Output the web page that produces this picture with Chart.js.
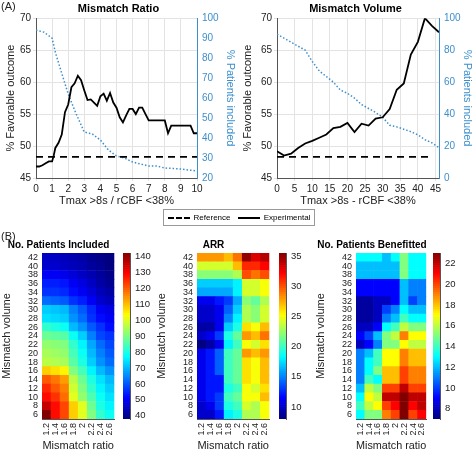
<!DOCTYPE html>
<html><head><meta charset="utf-8">
<script src="https://cdn.jsdelivr.net/npm/chart.js@4"></script>
<style>
body{margin:0;background:#fff;font-family:"Liberation Sans",Arial,sans-serif;}
canvas{position:absolute;}
.lbl{position:absolute;font-size:11px;color:#222;}
#legend{position:absolute;left:163px;top:209px;width:150px;height:15px;border:1px solid #999;font-size:8px;display:flex;align-items:center;justify-content:space-around;background:#fff;}
.ln{display:inline-block;width:22px;height:0;border-top:2px solid #000;vertical-align:middle;margin-right:4px;}
</style></head><body>
<canvas id="c1" style="left:0;top:0"></canvas>
<canvas id="c2" style="left:237px;top:0"></canvas>
<canvas id="h1" style="left:0;top:239px"></canvas>
<canvas id="b1" style="left:118px;top:239px"></canvas>
<canvas id="h2" style="left:155px;top:239px"></canvas>
<canvas id="b2" style="left:274px;top:239px"></canvas>
<canvas id="h3" style="left:314px;top:239px"></canvas>
<canvas id="b3" style="left:428px;top:239px"></canvas>
<div class="lbl" style="left:1px;top:0px">(A)</div>
<div class="lbl" style="left:1px;top:230px">(B)</div>
<div id="legend"><span><span class="ln" style="border-top-style:dashed"></span>Reference</span><span><span class="ln"></span>Experimental</span></div>
<script>
const ratioX   = [0,0.2,0.4,0.6,0.8,1.0,1.1,1.2,1.4,1.6,1.8,2.0,2.2,2.4,2.6,2.8,3.0,3.2,3.4,3.6,3.8,4.0,4.2,4.4,4.6,4.8,5.0,5.2,5.4,5.6,5.8,6.0,6.2,6.4,6.6,6.8,7.0,7.5,8.0,8.2,8.4,9.0,9.6,9.8,10];
const ratioFav = [46.8,46.8,47,47.3,47.6,47.6,48.5,49.7,50.5,51.8,55.3,56.5,59.2,59.8,61,60.3,58.7,57.2,57.3,56.8,56.3,57.8,58.2,57.1,58.3,56.8,56,54.5,53.7,54.8,55.8,55.8,55,56,56,55,54,54,54,52,53.2,53.2,53.2,52,52];
const ratioPX  = [0,0.5,1.0,1.2,1.5,2.0,2.5,3.0,3.5,4.0,4.5,5,5.5,6,6.5,7,7.5,8,9,10];
const ratioPct = [94,93,90,83,75,62,52,43,42,39,34,31,30,28,27,26,26,25,24.5,23.5];
const volX   = [0,2,4,6,8,10,12,14,16,18,20,22,24,26,28,30,32,34,36,38,40,42,44,46];
const volFav = [49.2,48.5,48.8,49.7,50.4,50.8,51.3,51.8,52.8,53,53.6,52.2,53.5,53.2,54.3,54.5,55.8,58.8,59.8,64.3,66.3,70,68.8,67.8];
const volPX  = [0,4,8,10,12,16,18,20,22,24,28,30,32,34,38,40,42,44,46];
const volPct = [90,85,80,73,67,60,55,53,50,46,41,38,33,32,29,27,24,22,19];
const referenceFav = 48.3;

const ratioCols = ['1.2','1.4','1.6','1.8','2','2.2','2.4','2.6'];
const volRows = [6,8,10,12,14,16,18,20,22,24,26,28,30,32,34,36,38,40,42];
const included = [
[142,128,122,108,100,90,82,78],[135,128,122,108,100,88,80,76],[128,124,118,100,92,85,78,74],
[125,120,116,98,90,82,76,72],[120,117,113,96,88,80,74,70],[108,106,104,90,84,76,70,66],
[96,95,94,86,80,72,66,62],[94,93,92,84,78,70,64,60],[92,91,90,82,76,68,62,58],
[88,87,86,78,72,64,58,56],[82,80,78,70,66,60,56,52],[74,73,72,66,62,56,52,50],
[72,71,70,64,60,55,50,48],[62,61,60,56,54,50,46,44],[56,56,55,52,50,47,44,42],
[54,54,53,50,48,45,42,40],[50,50,49,47,45,43,41,39],[46,46,45,44,43,41,40,38],[45,45,44,43,42,40,39,38]];
const arr = [
[10,10,12,18,19,23,23,25],[10,11,13,19,20,24,23,25],[11,12,13,20,21,25,25,27],
[11,12,12,19,20,25,24,26],[11,12,12,20,21,26,25,27],[11,12,14,20,21,26,25,27],
[11,12,14,20,21,26,25,27],[11,12,14,20,21,28,27,28],[8,9,11,18,20,25,24,26],
[10,11,13,19,21,28,27,29],[9,9,11,17,19,26,25,27],[10,10,11,15,18,23,22,24],
[10,10,11,14,17,23,22,24],[11,11,12,13,16,22,21,23],[16,16,16,16,18,24,24,25],
[17,17,17,17,18,24,24,25],[22,22,22,22,23,30,29,30],[24,24,24,24,27,31,31,32],[28,28,28,27,29,35,33,34]];
const benefitted = [
[13,15,15,19,20,23,20,21],[14,16,17,20,21,23,21,22],[13,17,16,22,22,23,22,22],
[12,16,15,20,20,22,20,20],[11,14,13,18,18,20,19,19],[11,13,15,18,18,20,19,19],
[11,13,14,17,17,19,18,18],[11,12,14,17,17,19,18,18],[8,9,11,15,15,17,16,16],
[9,10,12,15,16,19,17,17],[8,8,9,13,14,16,15,15],[7.5,7.5,8,11,12,14,13,13],
[7.5,7.5,8,10,11,13,12,12],[7.5,7.5,8,8,9,12,10,11],[9,9,9,9,9,12,11,11],
[9,9,9,9,9,12,11,11],[12,12,12,12,12,15,13,13],[12,12,12,12,12,15,13,13],[13,13,13,12,13,15,13,13]];
const markRatio = '2.2', markVol = 10;

const FONT = '"Liberation Sans", Arial, sans-serif';
Chart.defaults.font.family = FONT;
Chart.defaults.color = '#222';
Chart.defaults.animation = false;
const BLUE = '#3d8fcc';

function setSize(id,w,h){const c=document.getElementById(id);c.width=w;c.height=h;c.style.width=w+'px';c.style.height=h+'px';return c;}
const fix = (w)=>({afterFit:s=>{s.width=w;}});

function lineChart(id,title,xs,fav,px,pct,xmax,xticks,xtitle,refEnd,lw,rw){
  const c=setSize(id,237,212);
  new Chart(c,{type:'line',data:{datasets:[
    {data:xs.map((x,i)=>({x,y:fav[i]})),borderColor:'#000',borderWidth:1.8,pointRadius:0,yAxisID:'y'},
    {data:[{x:0,y:referenceFav},{x:refEnd,y:referenceFav}],borderColor:'#000',borderWidth:1.8,borderDash:[7,5],pointRadius:0,yAxisID:'y'},
    {data:px.map((x,i)=>({x,y:pct[i]})),borderColor:BLUE,borderWidth:1.5,borderDash:[1.5,2],pointRadius:0,yAxisID:'y1'}]},
   options:{responsive:false,layout:{padding:{top:2,bottom:0}},
    plugins:{legend:{display:false},title:{display:true,text:title,font:{size:11,weight:'bold'},padding:{top:0,bottom:3},color:'#000'},tooltip:{enabled:false}},
    scales:{
     x:{type:'linear',min:0,max:xmax,ticks:{font:{size:10},padding:2,maxRotation:0},grid:{color:'#e3e3e3',tickLength:3},border:{color:'#555'},
        afterBuildTicks:s=>{s.ticks=xticks.map(v=>({value:v}));},
        title:{display:true,text:xtitle,font:{size:11},padding:{top:0}},afterFit:s=>{s.height=34;}},
     y:{position:'left',min:45,max:70,ticks:{stepSize:5,font:{size:10},padding:2},grid:{color:'#e3e3e3',tickLength:3},border:{color:'#555'},
        title:{display:true,text:'% Favorable outcome',font:{size:11},padding:{bottom:0}},...fix(lw)},
     y1:{position:'right',min:xmax>20?0:20,max:100,ticks:{stepSize:xmax>20?20:10,font:{size:10},color:BLUE,padding:2},grid:{display:false,tickLength:3},border:{color:BLUE},
        title:{display:true,text:'% Patients included',font:{size:11},color:BLUE,padding:{top:0}},...fix(rw)}
    }}});
}
lineChart('c1','Mismatch Ratio',ratioX,ratioFav,ratioPX,ratioPct,10,[0,1,2,3,4,5,6,7,8,9,10],'Tmax >8s / rCBF <38%',10,36,40);
lineChart('c2','Mismatch Volume',volX,volFav,volPX,volPct,46,[0,5,10,15,20,25,30,35,40,45],'Tmax >8s - rCBF <38%',44,40,35);

function jet(t){t=Math.max(0,Math.min(1,t));const f=v=>Math.round(255*Math.max(0,Math.min(1,v)));
  return `rgb(${f(1.5-Math.abs(4*t-3))},${f(1.5-Math.abs(4*t-2))},${f(1.5-Math.abs(4*t-1))})`;}

const HH=214, XH=34;
function heat(id,w,title,grid,lo,hi,padR,ringColor){
  const c=setSize(id,w,HH);
  const ds=volRows.map((v,r)=>({type:'bar',data:ratioCols.map(()=>[v-1,v+1]),backgroundColor:grid[r].map(val=>jet((val-lo)/(hi-lo))),
     grouped:false,barPercentage:1,categoryPercentage:1,borderWidth:0}));
  ds.push({type:'scatter',data:[{x:markRatio,y:markVol}],pointRadius:3,pointBorderWidth:1.2,pointBorderColor:ringColor,pointBackgroundColor:'rgba(0,0,0,0)'});
  new Chart(c,{type:'bar',data:{labels:ratioCols,datasets:ds},
   options:{responsive:false,layout:{padding:{top:0,right:padR}},
    plugins:{legend:{display:false},tooltip:{enabled:false},title:{display:true,text:title,font:{size:10,weight:'bold'},color:'#000',padding:{top:0,bottom:2}}},
    scales:{
     x:{type:'category',offset:true,grid:{display:false,tickLength:3},border:{color:'#555'},ticks:{autoSkip:false,minRotation:90,maxRotation:90,font:{size:9},padding:1},
        title:{display:true,text:'Mismatch ratio',font:{size:11},padding:0},afterFit:s=>{s.height=XH;}},
     y:{type:'linear',min:5,max:43,grid:{display:false,tickLength:3},border:{color:'#555'},ticks:{autoSkip:false,font:{size:9},padding:1},
        afterBuildTicks:s=>{s.ticks=volRows.map(v=>({value:v}));},
        title:{display:true,text:'Mismatch volume',font:{size:11},padding:0},...fix(42)}
    }}});
}
function cbar(id,w,lo,hi,ticks){
  const c=setSize(id,w,HH);const N=80;const ds=[];
  for(let i=0;i<N;i++){const a=lo+(hi-lo)*i/N,b=lo+(hi-lo)*(i+1)/N;
    ds.push({data:[[a,b]],backgroundColor:jet((i+0.5)/N),grouped:false,barPercentage:1,categoryPercentage:1,borderWidth:0});}
  new Chart(c,{type:'bar',data:{labels:[''],datasets:ds},
   options:{responsive:false,layout:{padding:{top:14,bottom:XH,left:5}},
    plugins:{legend:{display:false},tooltip:{enabled:false}},
    scales:{x:{display:false},
     y:{position:'right',min:lo,max:hi,grid:{display:false,tickLength:3},border:{color:'#555'},ticks:{font:{size:9.5},padding:2},
        afterBuildTicks:s=>{s.ticks=ticks.map(v=>({value:v}));},...fix(w-12)}}}});
}
heat('h1',122,'No. Patients Included',included,38,142,5,'#555');
cbar('b1',40,38,142,[40,50,60,70,80,90,100,110,120,130,140]);
heat('h2',122,'ARR',arr,8,35.5,5,'#777');
cbar('b2',40,8,35.5,[10,15,20,25,30,35]);
heat('h3',120,'No. Patients Benefitted',benefitted,7,23,4,'#ddd');
cbar('b3',46,7,23,[8,10,12,14,16,18,20,22]);
</script></body></html>
